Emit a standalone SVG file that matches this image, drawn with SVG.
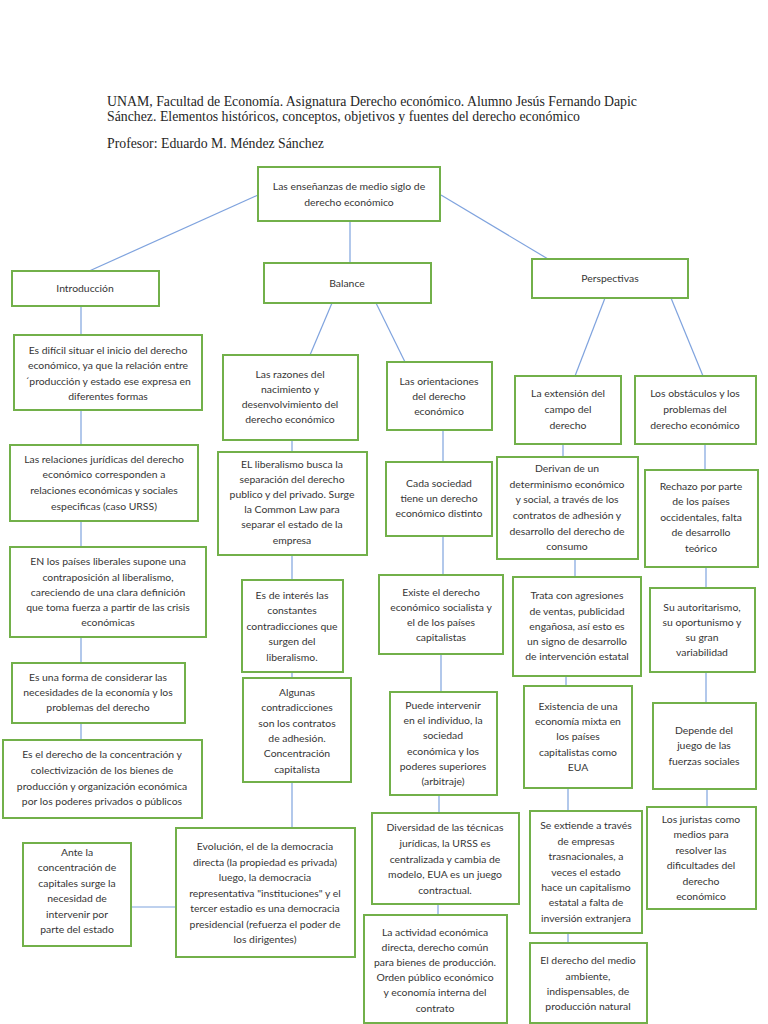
<svg xmlns="http://www.w3.org/2000/svg" width="768" height="1024" viewBox="0 0 768 1024">
<style>
.hd{font-family:"Liberation Serif","Times New Roman",serif;font-size:15px;fill:#262626}
.bx{fill:#ffffff;stroke:#72b04a;stroke-width:2}
.t{font-family:Lato,"Open Sans",sans-serif;font-size:10.4px;fill:#363636;text-anchor:middle}
.c{stroke:#7fa3de;stroke-width:1.2;fill:none}
</style>
<rect width="768" height="1024" fill="#ffffff"/>
<g id="header">
<text class="hd" x="107" y="106" textLength="530" lengthAdjust="spacingAndGlyphs">UNAM, Facultad de Economía. Asignatura Derecho económico. Alumno Jesús Fernando Dapic</text>
<text class="hd" x="107" y="121" textLength="473" lengthAdjust="spacingAndGlyphs">Sánchez. Elementos históricos, conceptos, objetivos y fuentes del derecho económico</text>
<text class="hd" x="107" y="148" textLength="217" lengthAdjust="spacingAndGlyphs">Profesor: Eduardo M. Méndez Sánchez</text>
</g>
<g id="connectors">
<line class="c" x1="258" y1="195" x2="87" y2="272"/>
<line class="c" x1="350" y1="221" x2="350" y2="263"/>
<line class="c" x1="441" y1="195" x2="548" y2="259"/>
<line class="c" x1="81" y1="306" x2="81" y2="335"/>
<line class="c" x1="81" y1="410" x2="81" y2="445"/>
<line class="c" x1="81" y1="521" x2="81" y2="547"/>
<line class="c" x1="81" y1="637" x2="81" y2="663"/>
<line class="c" x1="81" y1="723" x2="81" y2="740"/>
<line class="c" x1="332" y1="303" x2="310" y2="355"/>
<line class="c" x1="376" y1="303" x2="405" y2="362"/>
<line class="c" x1="292" y1="440" x2="292" y2="452"/>
<line class="c" x1="292" y1="555" x2="292" y2="580"/>
<line class="c" x1="292" y1="672" x2="292" y2="678"/>
<line class="c" x1="292" y1="782" x2="292" y2="828"/>
<line class="c" x1="131" y1="907" x2="176" y2="907"/>
<line class="c" x1="443" y1="430" x2="443" y2="462"/>
<line class="c" x1="443" y1="536" x2="443" y2="575"/>
<line class="c" x1="441" y1="654" x2="441" y2="692"/>
<line class="c" x1="439" y1="795" x2="439" y2="813"/>
<line class="c" x1="438" y1="904" x2="438" y2="915"/>
<line class="c" x1="605" y1="298" x2="575" y2="376"/>
<line class="c" x1="671" y1="298" x2="703" y2="376"/>
<line class="c" x1="563" y1="444" x2="563" y2="457"/>
<line class="c" x1="575" y1="559" x2="575" y2="577"/>
<line class="c" x1="566" y1="676" x2="566" y2="686"/>
<line class="c" x1="568" y1="788" x2="568" y2="811"/>
<line class="c" x1="568" y1="933" x2="568" y2="943"/>
<line class="c" x1="705" y1="444" x2="705" y2="470"/>
<line class="c" x1="706" y1="567" x2="706" y2="588"/>
<line class="c" x1="706" y1="672" x2="706" y2="703"/>
<line class="c" x1="707" y1="789" x2="707" y2="807"/>
</g>
<g id="n0"><rect class="bx" x="258" y="167" width="182" height="54"/><text class="t"><tspan x="349" y="190">Las enseñanzas de medio siglo de</tspan><tspan x="349" y="206">derecho económico</tspan></text></g>
<g id="n1"><rect class="bx" x="12" y="271" width="147" height="35"/><text class="t"><tspan x="85" y="292">Introducción</tspan></text></g>
<g id="n2"><rect class="bx" x="264" y="263" width="167" height="40"/><text class="t"><tspan x="347" y="287">Balance</tspan></text></g>
<g id="n3"><rect class="bx" x="532" y="259" width="156" height="39"/><text class="t"><tspan x="610" y="282">Perspectivas</tspan></text></g>
<g id="n4"><rect class="bx" x="14" y="335" width="188" height="75"/><text class="t"><tspan x="108" y="354">Es difícil situar el inicio del derecho</tspan><tspan x="108" y="369">económico, ya que la relación entre</tspan><tspan x="108" y="385">´producción y estado ese expresa en</tspan><tspan x="108" y="400">diferentes formas</tspan></text></g>
<g id="n5"><rect class="bx" x="10" y="445" width="188" height="76"/><text class="t"><tspan x="104" y="463">Las relaciones jurídicas del derecho</tspan><tspan x="104" y="478">económico corresponden a</tspan><tspan x="104" y="494">relaciones económicas y sociales</tspan><tspan x="104" y="510">especificas (caso URSS)</tspan></text></g>
<g id="n6"><rect class="bx" x="10" y="547" width="196" height="90"/><text class="t"><tspan x="108" y="565">EN los países liberales supone una</tspan><tspan x="108" y="581">contraposición al liberalismo,</tspan><tspan x="108" y="596">careciendo de una clara definición</tspan><tspan x="108" y="611">que toma fuerza a partir de las crisis</tspan><tspan x="108" y="626">económicas</tspan></text></g>
<g id="n7"><rect class="bx" x="12" y="663" width="173" height="60"/><text class="t"><tspan x="98" y="681">Es una forma de considerar las</tspan><tspan x="98" y="696">necesidades de la economía y los</tspan><tspan x="98" y="711">problemas del derecho</tspan></text></g>
<g id="n8"><rect class="bx" x="3" y="740" width="199" height="78"/><text class="t"><tspan x="102" y="758">Es el derecho de la concentración y</tspan><tspan x="102" y="774">colectivización de los bienes de</tspan><tspan x="102" y="790">producción y organización económica</tspan><tspan x="102" y="805">por los poderes privados o públicos</tspan></text></g>
<g id="n9"><rect class="bx" x="23" y="843" width="108" height="103"/><text class="t"><tspan x="77" y="856">Ante la</tspan><tspan x="77" y="871">concentración de</tspan><tspan x="77" y="887">capitales surge la</tspan><tspan x="77" y="902">necesidad de</tspan><tspan x="77" y="918">intervenir por</tspan><tspan x="77" y="933">parte del estado</tspan></text></g>
<g id="n10"><rect class="bx" x="223" y="355" width="135" height="85"/><text class="t"><tspan x="290" y="378">Las razones del</tspan><tspan x="290" y="393">nacimiento y</tspan><tspan x="290" y="408">desenvolvimiento del</tspan><tspan x="290" y="423">derecho económico</tspan></text></g>
<g id="n11"><rect class="bx" x="218" y="452" width="149" height="103"/><text class="t"><tspan x="292" y="468">EL liberalismo busca la</tspan><tspan x="292" y="483">separación del derecho</tspan><tspan x="292" y="498">publico y del privado. Surge</tspan><tspan x="292" y="513">la Common Law para</tspan><tspan x="292" y="528">separar el estado de la</tspan><tspan x="292" y="544">empresa</tspan></text></g>
<g id="n12"><rect class="bx" x="242" y="580" width="101" height="92"/><text class="t"><tspan x="292" y="599">Es de interés las</tspan><tspan x="292" y="614">constantes</tspan><tspan x="292" y="630">contradicciones que</tspan><tspan x="292" y="645">surgen del</tspan><tspan x="292" y="661">liberalismo.</tspan></text></g>
<g id="n13"><rect class="bx" x="243" y="678" width="108" height="104"/><text class="t"><tspan x="297" y="696">Algunas</tspan><tspan x="297" y="711">contradicciones</tspan><tspan x="297" y="727">son los contratos</tspan><tspan x="297" y="742">de adhesión.</tspan><tspan x="297" y="757">Concentración</tspan><tspan x="297" y="773">capitalista</tspan></text></g>
<g id="n14"><rect class="bx" x="176" y="828" width="179" height="129"/><text class="t"><tspan x="265" y="850">Evolución, el de la democracia</tspan><tspan x="265" y="866">directa (la propiedad es privada)</tspan><tspan x="265" y="881">luego, la democracia</tspan><tspan x="265" y="897">representativa "instituciones" y el</tspan><tspan x="265" y="912">tercer estadio es una democracia</tspan><tspan x="265" y="928">presidencial (refuerza el poder de</tspan><tspan x="265" y="943">los dirigentes)</tspan></text></g>
<g id="n15"><rect class="bx" x="387" y="362" width="105" height="68"/><text class="t"><tspan x="439" y="385">Las orientaciones</tspan><tspan x="439" y="400">del derecho</tspan><tspan x="439" y="415">económico</tspan></text></g>
<g id="n16"><rect class="bx" x="386" y="462" width="106" height="74"/><text class="t"><tspan x="439" y="487">Cada sociedad</tspan><tspan x="439" y="502">tiene un derecho</tspan><tspan x="439" y="517">económico distinto</tspan></text></g>
<g id="n17"><rect class="bx" x="379" y="575" width="124" height="79"/><text class="t"><tspan x="441" y="596">Existe el derecho</tspan><tspan x="441" y="611">económico socialista y</tspan><tspan x="441" y="626">el de los países</tspan><tspan x="441" y="641">capitalistas</tspan></text></g>
<g id="n18"><rect class="bx" x="390" y="692" width="107" height="103"/><text class="t"><tspan x="443" y="709">Puede intervenir</tspan><tspan x="443" y="724">en el individuo, la</tspan><tspan x="443" y="739">sociedad</tspan><tspan x="443" y="755">económica y los</tspan><tspan x="443" y="770">poderes superiores</tspan><tspan x="443" y="785">(arbitraje)</tspan></text></g>
<g id="n19"><rect class="bx" x="372" y="813" width="147" height="91"/><text class="t"><tspan x="445" y="831">Diversidad de las técnicas</tspan><tspan x="445" y="847">jurídicas, la URSS es</tspan><tspan x="445" y="863">centralizada y cambia de</tspan><tspan x="445" y="878">modelo, EUA es un juego</tspan><tspan x="445" y="894">contractual.</tspan></text></g>
<g id="n20"><rect class="bx" x="364" y="915" width="143" height="108"/><text class="t"><tspan x="435" y="936">La actividad económica</tspan><tspan x="435" y="951">directa, derecho común</tspan><tspan x="435" y="966">para bienes de producción.</tspan><tspan x="435" y="981">Orden público económico</tspan><tspan x="435" y="996">y economía interna del</tspan><tspan x="435" y="1012">contrato</tspan></text></g>
<g id="n21"><rect class="bx" x="515" y="376" width="106" height="68"/><text class="t"><tspan x="568" y="397">La extensión del</tspan><tspan x="568" y="413">campo del</tspan><tspan x="568" y="429">derecho</tspan></text></g>
<g id="n22"><rect class="bx" x="497" y="457" width="141" height="102"/><text class="t"><tspan x="567" y="472">Derivan de un</tspan><tspan x="567" y="488">determinismo económico</tspan><tspan x="567" y="503">y social, a través de los</tspan><tspan x="567" y="519">contratos de adhesión y</tspan><tspan x="567" y="535">desarrollo del derecho de</tspan><tspan x="567" y="550">consumo</tspan></text></g>
<g id="n23"><rect class="bx" x="513" y="577" width="128" height="99"/><text class="t"><tspan x="577" y="599">Trata con agresiones</tspan><tspan x="577" y="615">de ventas, publicidad</tspan><tspan x="577" y="630">engañosa, así esto es</tspan><tspan x="577" y="645">un signo de desarrollo</tspan><tspan x="577" y="660">de intervención estatal</tspan></text></g>
<g id="n24"><rect class="bx" x="524" y="686" width="108" height="102"/><text class="t"><tspan x="578" y="710">Existencia de una</tspan><tspan x="578" y="725">economía mixta en</tspan><tspan x="578" y="740">los países</tspan><tspan x="578" y="756">capitalistas como</tspan><tspan x="578" y="771">EUA</tspan></text></g>
<g id="n25"><rect class="bx" x="530" y="811" width="112" height="122"/><text class="t"><tspan x="586" y="829">Se extiende a través</tspan><tspan x="586" y="845">de empresas</tspan><tspan x="586" y="860">trasnacionales, a</tspan><tspan x="586" y="876">veces el estado</tspan><tspan x="586" y="891">hace un capitalismo</tspan><tspan x="586" y="906">estatal a falta de</tspan><tspan x="586" y="922">inversión extranjera</tspan></text></g>
<g id="n26"><rect class="bx" x="530" y="943" width="117" height="80"/><text class="t"><tspan x="588" y="964">El derecho del medio</tspan><tspan x="588" y="980">ambiente,</tspan><tspan x="588" y="995">indispensables, de</tspan><tspan x="588" y="1010">producción natural</tspan></text></g>
<g id="n27"><rect class="bx" x="635" y="376" width="121" height="68"/><text class="t"><tspan x="695" y="397">Los obstáculos y los</tspan><tspan x="695" y="413">problemas del</tspan><tspan x="695" y="429">derecho económico</tspan></text></g>
<g id="n28"><rect class="bx" x="645" y="470" width="113" height="97"/><text class="t"><tspan x="701" y="490">Rechazo por parte</tspan><tspan x="701" y="505">de los países</tspan><tspan x="701" y="521">occidentales, falta</tspan><tspan x="701" y="536">de desarrollo</tspan><tspan x="701" y="552">teórico</tspan></text></g>
<g id="n29"><rect class="bx" x="650" y="588" width="105" height="84"/><text class="t"><tspan x="702" y="611">Su autoritarismo,</tspan><tspan x="702" y="626">su oportunismo y</tspan><tspan x="702" y="641">su gran</tspan><tspan x="702" y="656">variabilidad</tspan></text></g>
<g id="n30"><rect class="bx" x="653" y="703" width="103" height="86"/><text class="t"><tspan x="704" y="734">Depende del</tspan><tspan x="704" y="749">juego de las</tspan><tspan x="704" y="765">fuerzas sociales</tspan></text></g>
<g id="n31"><rect class="bx" x="647" y="807" width="109" height="102"/><text class="t"><tspan x="701" y="823">Los juristas como</tspan><tspan x="701" y="838">medios para</tspan><tspan x="701" y="854">resolver las</tspan><tspan x="701" y="869">dificultades del</tspan><tspan x="701" y="885">derecho</tspan><tspan x="701" y="900">económico</tspan></text></g>
</svg>
